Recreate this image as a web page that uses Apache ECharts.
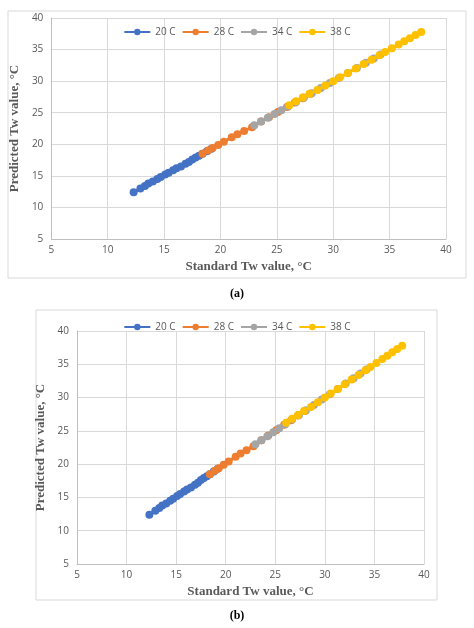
<!DOCTYPE html>
<html><head><meta charset="utf-8">
<script src="https://cdn.jsdelivr.net/npm/echarts@6/dist/echarts.min.js"></script>
<style>html,body{margin:0;padding:0;background:#fff;width:474px;height:628px;position:relative;overflow:hidden}
#a{position:absolute;left:0;top:0;width:474px;height:300px}
#b{position:absolute;left:0;top:300px;width:474px;height:328px}</style>
</head><body><div id="a"></div><div id="b"></div>
<script>
const names = ['20 C','28 C','34 C','38 C'];
const colors = ['#4472C4','#ED7D31','#A5A5A5','#FFC000'];
const x20 = [12.3,12.9,13.3,13.6,14.0,14.4,14.7,15.1,15.4,15.8,16.1,16.5,16.9,17.2,17.5,17.8,18.1,18.4,18.8,19.2];
const y20 = [12.4,13.0,13.4,13.8,14.1,14.5,14.8,15.2,15.5,15.9,16.2,16.5,16.9,17.2,17.6,17.9,18.2,18.5,18.9,19.3];
const x28 = [18.4,18.9,19.3,19.8,20.3,21.0,21.5,22.1,22.8,23.6,24.3,25.1,25.9,26.6,27.3,28.0];
const y28 = [18.5,19.0,19.4,19.9,20.4,21.1,21.6,22.1,22.7,23.6,24.3,25.1,25.9,26.6,27.3,28.0];
const x34 = [23.0,23.6,24.2,24.8,25.4,26.0,26.7,27.4,28.1,28.9,29.7,30.5,31.3,32.1,32.9,33.6,34.2];
const y34 = [23.0,23.6,24.2,24.8,25.4,26.0,26.7,27.4,28.1,28.9,29.7,30.5,31.3,32.1,32.9,33.6,34.2];
const x38 = [26.1,26.7,27.3,27.9,28.6,29.3,30.0,30.6,31.3,32.0,32.7,33.4,34.1,34.6,35.2,35.8,36.3,36.8,37.3,37.8];
const y38 = [26.2,26.8,27.4,28.0,28.6,29.3,30.0,30.6,31.3,32.0,32.7,33.4,34.1,34.6,35.2,35.8,36.3,36.8,37.3,37.8];
const xs = [x20,x28,x34,x38], ys = [y20,y28,y34,y38];
const tickMin = 5, tickMax = 40, tickStep = 5;

function axis(name,gap,margin){return {type:'value',min:tickMin,max:tickMax,interval:tickStep,
  name:name,nameLocation:'middle',nameGap:gap,
  nameTextStyle:{fontFamily:'Liberation Serif',fontWeight:'bold',fontSize:13,color:'#595959'},
  axisLine:{show:true,lineStyle:{color:'#BFBFBF'}},axisTick:{show:false},
  axisLabel:{color:'#595959',fontSize:10,fontFamily:'Open Sans',margin:margin},
  splitLine:{lineStyle:{color:'#D9D9D9'}}};}
function build(el,grid,legendTop,box,cap,capTop,xgap,ygap){
  const series=names.map((n,i)=>({name:n,type:'line',
    data:xs[i].map((v,k)=>[v,ys[i][k]]),symbol:'circle',symbolSize:8,
    lineStyle:{width:3,color:colors[i]},itemStyle:{color:colors[i]},z:2+i}));
  const c=echarts.init(el);
  c.setOption({animation:false,grid:grid,
    xAxis:axis('Standard Tw value, °C',xgap,6),
    yAxis:axis('Predicted Tw value, °C',ygap,8),
    legend:{data:names,top:legendTop,left:'center',itemWidth:26,itemHeight:8,itemGap:6,
      textStyle:{color:'#595959',fontSize:10,fontFamily:'Open Sans'}},
    series:series,
    graphic:[
      {type:'rect',shape:box,style:{fill:'none',stroke:'#D9D9D9',lineWidth:1},z:-1},
      {type:'text',left:'center',top:capTop,style:{text:cap,font:'bold 12px Liberation Serif',fill:'#000'}}
    ]});
}
build(document.getElementById('a'),{left:47,width:399,top:18,height:221},22,
  {x:8,y:11,width:458,height:267},'(a)',288,17,20);
build(document.getElementById('b'),{left:77,width:347,top:31,height:233},17,
  {x:36,y:10,width:401,height:290},'(b)',310,14,24);
</script></body></html>
